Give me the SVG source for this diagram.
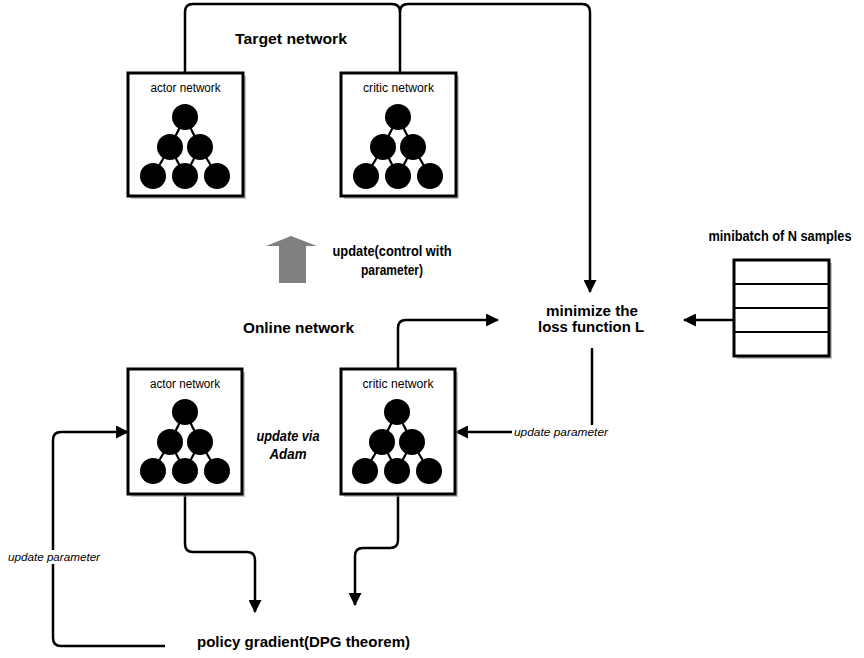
<svg xmlns="http://www.w3.org/2000/svg" width="864" height="658" viewBox="0 0 864 658">
<defs>
<style>
.box{fill:#fff;stroke:#000;stroke-width:3}
.shadow{fill:#999;opacity:0.6}
.node{fill:#000}
.edge{fill:none;stroke:#000;stroke-width:2.2}
.conn{fill:none;stroke:#000;stroke-width:2.5;stroke-linejoin:round}
.lbl{font-family:"Liberation Sans",Arial,sans-serif;font-size:12px;text-anchor:middle;fill:#000}
.bold{font-family:"Liberation Sans",Arial,sans-serif;font-size:14px;font-weight:bold;text-anchor:middle;fill:#000}
.ital{font-family:"Liberation Sans",Arial,sans-serif;font-size:11px;font-style:italic;fill:#000}
.italb{font-family:"Liberation Sans",Arial,sans-serif;font-size:14px;font-style:italic;font-weight:bold;text-anchor:middle;fill:#000}
</style>
<marker id="arr" viewBox="0 0 12 12" refX="11" refY="6" markerWidth="13" markerHeight="13" markerUnits="userSpaceOnUse" orient="auto">
<path d="M0,0 L12,6 L0,12 Z" fill="#000"/>
</marker>
<g id="tri">
<line class="edge" x1="0" y1="0" x2="-15" y2="30"/>
<line class="edge" x1="0" y1="0" x2="15" y2="30"/>
<line class="edge" x1="-15" y1="30" x2="-32" y2="59"/>
<line class="edge" x1="-15" y1="30" x2="0" y2="59"/>
<line class="edge" x1="15" y1="30" x2="0" y2="59"/>
<line class="edge" x1="15" y1="30" x2="32" y2="59"/>
<circle class="node" cx="0" cy="0" r="13"/>
<circle class="node" cx="-15" cy="30" r="13"/>
<circle class="node" cx="15" cy="30" r="13"/>
<circle class="node" cx="-32" cy="59" r="13"/>
<circle class="node" cx="0" cy="59" r="13"/>
<circle class="node" cx="32" cy="59" r="13"/>
</g>
</defs>
<rect width="864" height="658" fill="#fff"/>

<g id="connectors">
<path class="conn" d="M185,73 V12 Q185,4 193,4 H392 Q400,4 400,12 V73"/>
<path class="conn" d="M400,12 Q400,4 408,4 H582 Q590,4 590,12 V292" marker-end="url(#arr)"/>
<path class="conn" d="M592,348 V432 H456" marker-end="url(#arr)"/>
<path class="conn" d="M734,320 H684" marker-end="url(#arr)"/>
<path class="conn" d="M398,369 V328 Q398,320 406,320 H498" marker-end="url(#arr)"/>
<path class="conn" d="M185,495 V544 Q185,552 193,552 H247 Q255,552 255,560 V612" marker-end="url(#arr)"/>
<path class="conn" d="M398,495 V540 Q398,548 390,548 H363 Q355,548 355,556 V605" marker-end="url(#arr)"/>
<path class="conn" d="M165,646 H61 Q53,646 53,638 V440 Q53,432 61,432 H128" marker-end="url(#arr)"/>
</g>

<g id="target-actor">
<rect class="shadow" x="131" y="76" width="115" height="123"/>
<rect class="box" x="128" y="73" width="115" height="123"/>
<text class="lbl" x="185.5" y="92" textLength="70" lengthAdjust="spacingAndGlyphs">actor network</text>
<use href="#tri" x="185" y="117"/>
</g>
<g id="target-critic">
<rect class="shadow" x="344" y="76" width="115" height="123"/>
<rect class="box" x="341" y="73" width="115" height="123"/>
<text class="lbl" x="398.5" y="92" textLength="71" lengthAdjust="spacingAndGlyphs">critic network</text>
<use href="#tri" x="398" y="117"/>
</g>
<g id="online-actor">
<rect class="shadow" x="131" y="372" width="114" height="125"/>
<rect class="box" x="128" y="369" width="114" height="125"/>
<text class="lbl" x="185" y="388" textLength="70" lengthAdjust="spacingAndGlyphs">actor network</text>
<use href="#tri" x="185" y="412"/>
</g>
<g id="online-critic">
<rect class="shadow" x="344" y="372" width="114" height="125"/>
<rect class="box" x="341" y="369" width="114" height="125"/>
<text class="lbl" x="398" y="388" textLength="71" lengthAdjust="spacingAndGlyphs">critic network</text>
<use href="#tri" x="397" y="412"/>
</g>

<g id="minibatch">
<rect class="shadow" x="737" y="263" width="95" height="96"/>
<rect class="box" x="734" y="260" width="95" height="96"/>
<line class="edge" stroke-width="2.5" x1="734" y1="284" x2="829" y2="284"/>
<line class="edge" stroke-width="2.5" x1="734" y1="308" x2="829" y2="308"/>
<line class="edge" stroke-width="2.5" x1="734" y1="332" x2="829" y2="332"/>
<text class="bold" x="780" y="241" font-size="13" textLength="143" lengthAdjust="spacingAndGlyphs">minibatch of N samples</text>
</g>

<g id="update-arrow">
<path d="M266,246 L291,236 L317,246 L306,246 L306,283 L279,283 L279,246 Z" fill="#808080"/>
<text class="bold" x="392" y="256" font-size="13" textLength="119" lengthAdjust="spacingAndGlyphs">update(control with</text>
<text class="bold" x="392" y="275" font-size="13" textLength="62" lengthAdjust="spacingAndGlyphs">parameter)</text>
</g>

<g id="minimize">
<text class="bold" x="592" y="316" textLength="92" lengthAdjust="spacingAndGlyphs">minimize the</text>
<text class="bold" x="591" y="332" textLength="106" lengthAdjust="spacingAndGlyphs">loss function L</text>
</g>

<g id="labels">
<text class="bold" x="291" y="44" textLength="112" lengthAdjust="spacingAndGlyphs">Target network</text>
<text class="bold" x="298.5" y="333" textLength="111" lengthAdjust="spacingAndGlyphs">Online network</text>
<text class="italb" x="288" y="441" font-size="13.5" textLength="63" lengthAdjust="spacingAndGlyphs">update via</text>
<text class="italb" x="288" y="459" font-size="13.5" textLength="37" lengthAdjust="spacingAndGlyphs">Adam</text>
<text class="bold" x="303.5" y="647" textLength="213" lengthAdjust="spacingAndGlyphs">policy gradient(DPG theorem)</text>
<rect x="512" y="425" width="98" height="14" fill="#fff"/>
<text class="ital" x="514" y="436" textLength="94" lengthAdjust="spacingAndGlyphs">update  parameter</text>
<rect x="6" y="550" width="96" height="14" fill="#fff"/>
<text class="ital" x="8" y="561" textLength="92" lengthAdjust="spacingAndGlyphs">update parameter</text>
</g>
</svg>
